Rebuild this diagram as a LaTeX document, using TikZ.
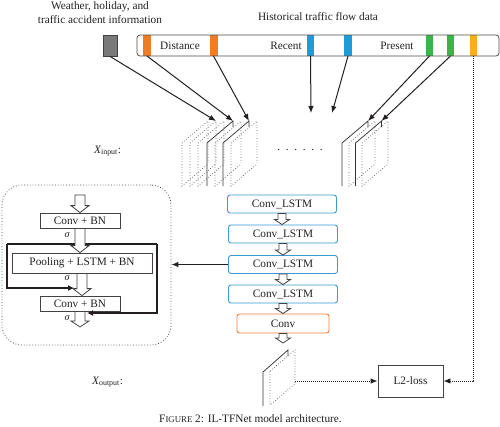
\documentclass[tikz,border=0pt]{standalone}
\usepackage{fontspec}
\setmainfont{Liberation Serif}
\usetikzlibrary{arrows.meta,calc}
\definecolor{corange}{HTML}{F27C22}
\definecolor{cblue}{HTML}{1F9BD7}
\definecolor{cgreen}{HTML}{3CB44A}
\definecolor{cyellow}{HTML}{F8AE1A}
\definecolor{boxblue}{HTML}{3A9AD5}
\definecolor{boxorange}{HTML}{EF7F3A}
\definecolor{ink}{HTML}{231F20}
\newcommand\harr[5]{\draw[harrowstyle] let \p1=#1, \p2=#2 in
  (\x1-#3pt,\y1) -- (\x1+#3pt,\y1) -- (\x1+#3pt,\y2+#5pt) -- (\x1+#4pt,\y2+#5pt)
  -- (\x1,\y2) -- (\x1-#4pt,\y2+#5pt) -- (\x1-#3pt,\y2+#5pt) -- cycle;}
\newcommand\slabdot[5]{\draw[slabdotted] (#1,#2) -- ++(#3,-#4) -- ++(0,#5) -- ++(-#3,#4) -- cycle;}
\newcommand\slabsolid[5]{\draw[slabline] (#1,#2+#5) -- (#1,#2) -- ++(#3,-#4) -- ++(0,6);}
\begin{document}
\begin{tikzpicture}[x=1pt,y=-1pt,
  font=\fontsize{11.3}{13.2}\selectfont, text=ink,
  bar/.style={draw=ink!80, line width=0.8pt, rounded corners=3pt},
  stripe/.style={draw=none, minimum height=21pt, inner sep=0pt, outer sep=0pt},
  inarrow/.style={draw=ink, line width=1pt, -{Latex[length=7pt,width=5.5pt]}},
  dotarrow/.style={draw=ink, line width=1pt, densely dotted, -{Latex[length=7pt,width=5.5pt]}},
  lstm/.style={draw=boxblue, rounded corners=2.5pt, line width=0.9pt, minimum width=109pt, minimum height=18pt, inner sep=0pt},
  convo/.style={draw=boxorange, rounded corners=2.5pt, line width=0.9pt, minimum width=92pt, minimum height=19pt, inner sep=0pt},
  lbox/.style={draw=ink!85, line width=0.8pt, minimum height=15pt, inner sep=0pt},
  harrowstyle/.style={draw=ink!85, fill=white, line width=0.8pt, line join=miter},
  loopline/.style={draw=ink, line width=1.6pt, -{Latex[length=6pt,width=6pt]}},
  slabdotted/.style={draw=ink!75, line width=0.7pt, dotted},
  slabline/.style={draw=ink!90, line width=0.75pt},
  sig/.style={font=\fontsize{10}{12}\selectfont\itshape, inner sep=0pt}]
\useasboundingbox (0,0) rectangle (500,426);

% top texts
\node[anchor=base, inner sep=0pt] (wtxt) at (100,9.8) {Weather, holiday, and};
\node[anchor=base, inner sep=0pt] (wtxt2) at (100,23) {traffic accident information};
\node[anchor=base, inner sep=0pt] (htxt) at (318,20.5) {Historical traffic flow data};

% bar with stripes
\node[draw=ink!85, fill=gray!95!black, line width=0.8pt, minimum width=14pt, minimum height=21pt, inner sep=0pt] (wx) at (110,45.5) {};
\node[stripe, fill=corange, minimum width=8pt] (o1) at (147,45.5) {};
\node[stripe, fill=corange, minimum width=8pt] (o2) at (213.5,45.5) {};
\node[stripe, fill=cblue, minimum width=7.5pt] (b1) at (310.5,45.5) {};
\node[stripe, fill=cblue, minimum width=7.5pt] (b2) at (348,45.5) {};
\node[stripe, fill=cgreen, minimum width=7.5pt] (g1) at (429.5,45.5) {};
\node[stripe, fill=cgreen, minimum width=7.5pt] (g2) at (450.5,45.5) {};
\node[stripe, fill=cyellow, minimum width=7.5pt] (y1) at (473.5,45.5) {};
\draw[bar] (137,35) rectangle (499,56);
\node (dist) at (180,45.5) {Distance};
\node (rec) at (286,45.5) {Recent};
\node (pres) at (397,45.5) {Present};

% input slabs
\foreach \sx in {182,190,198,215,231} {\slabdot{\sx}{143}{26}{22}{43}}
\foreach \sx in {207,223} {\slabsolid{\sx}{143}{26}{22}{43}}
\foreach \sx in {349,362} {\slabdot{\sx}{143}{26}{22}{43}}
\foreach \sx in {342,355.5} {\slabsolid{\sx}{143}{26}{22}{43}}
\coordinate (t0) at (216,121);
\coordinate (t1) at (233,121);
\coordinate (t2) at (249,121);
\coordinate (t3) at (311,113);
\coordinate (t4) at (332,113);
\coordinate (t5) at (368,121);
\coordinate (t6) at (381.5,121);
\draw[inarrow] (wx.south) -- (t0);
\draw[inarrow] (o1.south) -- (t1);
\draw[inarrow] (o2.south) -- (t2);
\draw[inarrow] (b1.south) -- (t3);
\draw[inarrow] (b2.south) -- (t4);
\draw[inarrow] (g1.south) -- (t5);
\draw[inarrow] (g2.south) -- (t6);
\node (dots) at (300,150) {.\ \ .\ \ .\ \ .\ \ .\ \ .};
\node[anchor=west, inner sep=0pt] (xin) at (94,151) {{\itshape X}\textsubscript{input}:};

% left dotted box
\node[draw=ink!80, dotted, line width=0.8pt, rounded corners=20pt, minimum width=169pt, minimum height=160pt, inner sep=0pt] (lb) at (86.5,265) {};
\coordinate (ltop) at (80,195);
\node[lbox, minimum width=80pt] (cb1) at (80,220.5) {Conv + BN};
\node[lbox, minimum width=140pt, minimum height=20pt] (pool) at (82,263) {Pooling + LSTM + BN};
\node[lbox, minimum width=80pt] (cb2) at (80,303.5) {Conv + BN};
\coordinate (lbot) at (80,327);
\coordinate (lpa) at (7,244);
\coordinate (lpb) at (157,244);
\draw[draw=ink, line width=1.6pt] (lpa) -- (lpb);
\draw[loopline] (lpa) |- (74,288);
\draw[loopline] (lpb) |- (87,313);
\harr{(ltop)}{(cb1.north)}{5}{9}{7}
\harr{(cb1.south)}{(pool.north)}{5}{9}{7}
\harr{(pool.south)}{(cb2.north)}{5}{9}{7}
\harr{(cb2.south)}{(lbot)}{5}{9}{6}
\node[sig] (s1) at (67,235) {σ};
\node[sig] (s2) at (67,278) {σ};
\node[sig] (s3) at (67,318) {σ};

% right column
\node[lstm] (L1) at (282,204) {Conv\_LSTM};
\node[lstm] (L2) at (283,234) {Conv\_LSTM};
\node[lstm] (L3) at (283,264.5) {Conv\_LSTM};
\node[lstm] (L4) at (283,294) {Conv\_LSTM};
\node[convo] (cv) at (283,323.5) {Conv};
\coordinate (cvb) at (283,343);
\harr{(L1.south)}{(L2.north)}{4}{7.5}{5}
\harr{(L2.south)}{(L3.north)}{4}{7.5}{5}
\harr{(L3.south)}{(L4.north)}{4}{7.5}{5}
\harr{(L4.south)}{(cv.north)}{4}{7.5}{5}
\harr{(cv.south)}{(cvb)}{4}{7.5}{5}
\draw[inarrow] (L3.west) -- (L3.west -| lb.east);

% output
\slabdot{270}{371}{25}{21}{34}
\slabsolid{263}{372}{25}{22}{34}
\coordinate (outr) at (295,381);
\node[anchor=west, inner sep=0pt] (xout) at (92,382) {{\itshape X}\textsubscript{output}:};
\node[draw=ink!85, line width=0.8pt, minimum width=65pt, minimum height=32pt, inner sep=0pt] (l2) at (410.5,381) {L2-loss};
\draw[dotarrow] (outr) -- (l2.west);
\draw[dotarrow] (y1.south) |- (l2.east);

% caption
\node[anchor=base, inner sep=0pt] (cap) at (250.5,422.5) {F{\fontsize{8.8}{10}\selectfont IGURE} 2: IL-TFNet model architecture.};
\end{tikzpicture}
\end{document}
